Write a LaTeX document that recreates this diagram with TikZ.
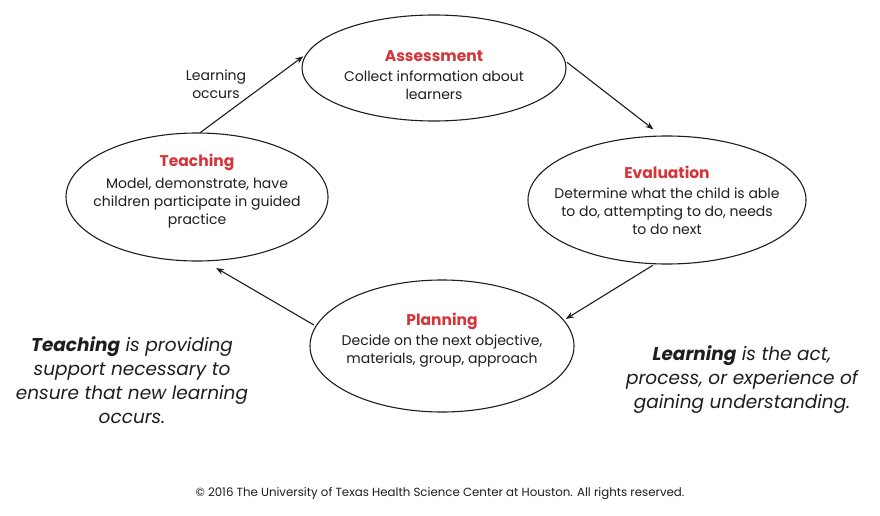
\documentclass[tikz,border=0pt]{standalone}
\usepackage{fontspec}
\setmainfont{Poppins}
\usetikzlibrary{shapes.geometric,arrows.meta}
\definecolor{titlered}{RGB}{214,52,56}
\definecolor{ink}{RGB}{30,30,30}
\tikzset{
  stage/.style={ellipse, draw=ink, line width=1.1pt, inner sep=0pt, align=center, text=ink},
  ttl/.style={font=\fontsize{15.5}{18}\selectfont\bfseries, text=titlered},
  body/.style={align=center, text=ink, font=\bodyfont},
  flow/.style={draw=ink, line width=1.1pt, -{Stealth[length=8pt,width=6pt]}},
  note/.style={align=center, text=ink, font=\fontsize{18.5}{24}\selectfont\itshape},
}
\newcommand{\bodyfont}{\fontsize{14}{18}\selectfont}
\begin{document}
\begin{tikzpicture}[x=1pt,y=-1pt]
\path[use as bounding box, fill=white] (0,0) rectangle (880,516);

\node[stage, minimum width=264pt, minimum height=106pt] (ass) at (434,68) {};
\node[ttl] (asst) at (434,56) {Assessment};
\node[body] (assb) at (434,85) {Collect information about\\learners};

\node[stage, minimum width=278pt, minimum height=128pt] (eva) at (667,200) {};
\node[ttl] (evat) at (667,172) {Evaluation};
\node[body] (evab) at (667,211) {Determine what the child is able\\to do, attempting to do, needs\\to do next};

\node[stage, minimum width=264pt, minimum height=132pt] (pla) at (442,346) {};
\node[ttl] (plat) at (442,321) {Planning};
\node[body] (plab) at (442,351) {Decide on the next objective,\\materials, group, approach};

\node[stage, minimum width=262pt, minimum height=128pt] (tea) at (197,197) {};
\node[ttl] (teat) at (197,162) {Teaching};
\node[body] (teab) at (197,203) {Model, demonstrate, have\\children participate in guided\\practice};

\draw[flow, shorten >=3pt] (tea.87) -- (ass.174);
\draw[flow, shorten <=2pt, shorten >=10pt] (ass.3) -- (eva.95);
\draw[flow, shorten <=2pt, shorten >=2pt] (eva.259) -- (pla.12);
\draw[flow, shorten <=2pt, shorten >=13pt] (pla.171) -- (tea.277);

\node[body] (occ) at (216,84) {Learning\\occurs};

\node[note] (tnote) at (132,380) {\textbf{Teaching} is providing\\support necessary to\\ensure that new learning\\occurs.};
\node[note] (lnote) at (742,380) {\textbf{Learning} is the act,\\process, or experience of\\gaining understanding.};

\node[text=ink, font=\fontsize{11.8}{14}\selectfont] (copy) at (440,494) {© 2016 The University of Texas Health Science Center at Houston. All rights reserved.};
\end{tikzpicture}
\end{document}
